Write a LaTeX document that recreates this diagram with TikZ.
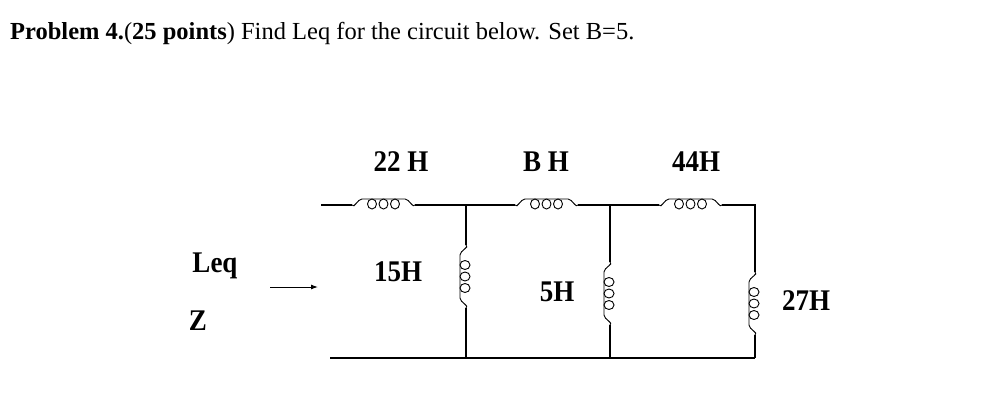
\documentclass[tikz,border=0pt]{standalone}
\usepackage{fontspec}
\setmainfont{Liberation Serif}
\usetikzlibrary{arrows.meta}
\begin{document}
\begin{tikzpicture}[x=1pt,y=-1pt,
  wire/.style={line width=1.2pt},
  ind/.pic={
    \draw[line width=0.9pt] (0,0) to[out=-60,in=180] (10,-6) -- (53,-6) to[out=0,in=240] (63,0);
    \foreach \c in {20,31.5,43}{\draw[line width=0.9pt] (\c,-1) ellipse[x radius=4.5pt,y radius=5pt];}
  },
  lbl/.style={font=\fontsize{30}{31}\selectfont\bfseries,inner sep=0pt,xscale=0.9}]
\useasboundingbox (0,0) rectangle (1001,418);
\node[anchor=base west,inner sep=0pt,font=\fontsize{24.5}{26}\selectfont] (title) at (10,39)
  {\textbf{Problem 4.}(\textbf{25 points}) Find Leq for the circuit below. Set B=5.};
\coordinate (a) at (321,205);
\coordinate (l1a) at (352,205); \coordinate (l1b) at (415,205);
\coordinate (n1) at (466,205);
\coordinate (l2a) at (515,205); \coordinate (l2b) at (578,205);
\coordinate (n2) at (610,205);
\coordinate (l3a) at (659,205); \coordinate (l3b) at (722,205);
\coordinate (n3) at (755,205);
\coordinate (b0) at (330,358);
\coordinate (b1) at (466,358); \coordinate (b2) at (610,358); \coordinate (b3) at (755,358);
\coordinate (v1a) at (466,245); \coordinate (v1b) at (466,308);
\coordinate (v2a) at (610,262); \coordinate (v2b) at (610,325);
\coordinate (v3a) at (755,272); \coordinate (v3b) at (755,335);
\draw[wire] (a) -- (l1a) (l1b) -- (n1) -- (l2a) (l2b) -- (n2) -- (l3a) (l3b) -- (n3) -- (v3a);
\pic at (l1a) {ind};
\pic at (l2a) {ind};
\pic at (l3a) {ind};
\draw[wire] (n1) -- (v1a) (v1b) -- (b1);
\draw[wire] (n2) -- (v2a) (v2b) -- (b2);
\draw[wire] (v3b) -- (b3);
\pic[rotate=-90,yscale=-1] at (v1a) {ind};
\pic[rotate=-90,yscale=-1] at (v2a) {ind};
\pic[rotate=-90,yscale=-1] at (v3a) {ind};
\draw[wire] (b0) -- (b3);
\node[lbl] (t1) at (401,162) {22 H};
\node[lbl] (t2) at (546,162) {B H};
\node[lbl] (t3) at (696,162) {44H};
\node[lbl] (t4) at (398,272) {15H};
\node[lbl] (t5) at (557,292) {5H};
\node[lbl] (t6) at (806,301) {27H};
\node[lbl] (leq) at (215,266) {Leq};
\node[lbl] (z) at (198,321) {Z};
\coordinate (ar1) at (270,287); \coordinate (ar2) at (318,287);
\draw[line width=1pt,-{Latex[length=7pt,width=5pt]}] (ar1) -- (ar2);
\end{tikzpicture}
\end{document}
